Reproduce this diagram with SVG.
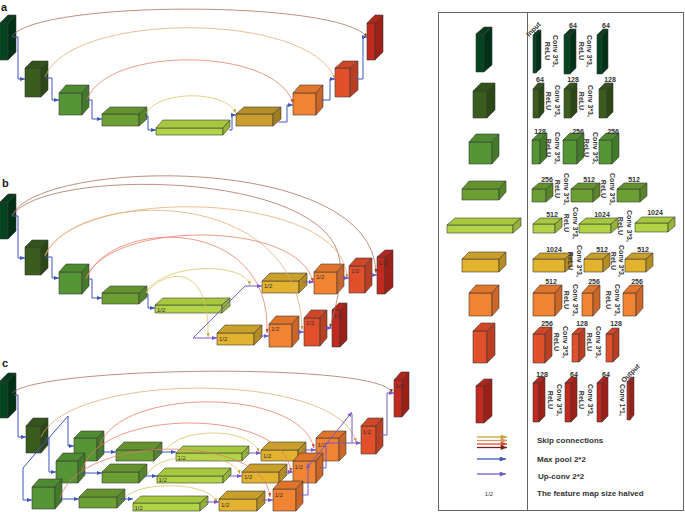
<svg xmlns="http://www.w3.org/2000/svg" width="685" height="512" viewBox="0 0 685 512">
<style>
text{font-family:"Liberation Sans",Arial,sans-serif}
.lbl{font-size:11px;font-weight:bold;fill:#1a1a1a}
.h{font-size:6px;fill:#333}
.n{font-size:7px;font-weight:bold;fill:#333;text-anchor:middle}
.cv{font-size:7px;font-weight:bold;fill:#333;text-anchor:middle}
.io{font-size:7px;font-weight:bold;fill:#333}
.lg{font-size:8px;font-weight:bold;fill:#333}
.bx rect,.bx polygon{stroke:#3a3a3a;stroke-width:0.6;stroke-linejoin:round}
.k1 rect{fill:#00451f}.k1 .t{fill:#083b1b}.k1 .s{fill:#003016}
.k2 rect{fill:#3a5c1d}.k2 .t{fill:#34531a}.k2 .s{fill:#2b4715}
.k3 rect{fill:#559535}.k3 .t{fill:#4e8a30}.k3 .s{fill:#437a29}
.k4 rect{fill:#6b9f34}.k4 .t{fill:#64922f}.k4 .s{fill:#578429}
.k5 rect{fill:#b1d447}.k5 .t{fill:#a6c83f}.k5 .s{fill:#93b434}
.k6 rect{fill:#e3b22f}.k6 .t{fill:#c9a02a}.k6 .s{fill:#b48d22}
.k6a rect{fill:#c99e2c}.k6a .t{fill:#b68e27}.k6a .s{fill:#a27e21}
.k7 rect{fill:#f28333}.k7 .t{fill:#e0742b}.k7 .s{fill:#cc6626}
.k8 rect{fill:#e1502b}.k8 .t{fill:#cf4727}.k8 .s{fill:#ba3e22}
.k9 rect{fill:#c22a1f}.k9 .t{fill:#b2261c}.k9 .s{fill:#9c2018}
.mp{fill:none;stroke:#3d57b8;stroke-width:1}
.up{fill:none;stroke:#7659c4;stroke-width:1}
.sk{fill:none;stroke-width:0.75}
.br{stroke:#a56c54}.tn{stroke:#e2ab70}.rd{stroke:#ea7864}.yl{stroke:#d8c25c}
.frame{fill:none;stroke:#666;stroke-width:1}
</style>
<defs>
<marker id="mB" viewBox="0 0 10 8" refX="10" refY="4" markerWidth="5" markerHeight="4" markerUnits="userSpaceOnUse" orient="auto"><path d="M0,0L10,4L0,8z" fill="#3d57b8"/></marker>
<marker id="mP" viewBox="0 0 10 8" refX="10" refY="4" markerWidth="5" markerHeight="4" markerUnits="userSpaceOnUse" orient="auto"><path d="M0,0L10,4L0,8z" fill="#7659c4"/></marker>
<marker id="mBr" viewBox="0 0 10 8" refX="10" refY="4" markerWidth="4" markerHeight="3.5" markerUnits="userSpaceOnUse" orient="auto"><path d="M0,0L10,4L0,8z" fill="#8a4028"/></marker>
<marker id="mTn" viewBox="0 0 10 8" refX="10" refY="4" markerWidth="4" markerHeight="3.5" markerUnits="userSpaceOnUse" orient="auto"><path d="M0,0L10,4L0,8z" fill="#d89050"/></marker>
<marker id="mRd" viewBox="0 0 10 8" refX="10" refY="4" markerWidth="4" markerHeight="3.5" markerUnits="userSpaceOnUse" orient="auto"><path d="M0,0L10,4L0,8z" fill="#d84030"/></marker>
<marker id="mYl" viewBox="0 0 10 8" refX="10" refY="4" markerWidth="4" markerHeight="3.5" markerUnits="userSpaceOnUse" orient="auto"><path d="M0,0L10,4L0,8z" fill="#c8a838"/></marker>
<marker id="lY" viewBox="0 0 10 8" refX="10" refY="4" markerWidth="7" markerHeight="5" markerUnits="userSpaceOnUse" orient="auto"><path d="M0,0L10,4L0,8z" fill="#c9a43a"/></marker>
<marker id="lT" viewBox="0 0 10 8" refX="10" refY="4" markerWidth="7" markerHeight="5" markerUnits="userSpaceOnUse" orient="auto"><path d="M0,0L10,4L0,8z" fill="#d99a60"/></marker>
<marker id="lR" viewBox="0 0 10 8" refX="10" refY="4" markerWidth="7" markerHeight="5" markerUnits="userSpaceOnUse" orient="auto"><path d="M0,0L10,4L0,8z" fill="#e04a35"/></marker>
<marker id="lD" viewBox="0 0 10 8" refX="10" refY="4" markerWidth="7" markerHeight="5" markerUnits="userSpaceOnUse" orient="auto"><path d="M0,0L10,4L0,8z" fill="#74200e"/></marker>
<marker id="lB" viewBox="0 0 10 8" refX="10" refY="4" markerWidth="7" markerHeight="5" markerUnits="userSpaceOnUse" orient="auto"><path d="M0,0L10,4L0,8z" fill="#3d57b8"/></marker>
<marker id="lP" viewBox="0 0 10 8" refX="10" refY="4" markerWidth="7" markerHeight="5" markerUnits="userSpaceOnUse" orient="auto"><path d="M0,0L10,4L0,8z" fill="#7659c4"/></marker>
</defs>
<rect width="685" height="512" fill="#fff"/>

<text class="lbl" x="1" y="11">a</text>
<text class="lbl" x="2" y="187">b</text>
<text class="lbl" x="2" y="367">c</text>

<!-- Panel a -->
<g id="panel-a">
<g id="a1" class="bx k1"><rect x="0" y="23" width="8" height="37"/><polygon class="t" points="0,23 8,15 16,15 8,23"/><polygon class="s" points="8,23 16,15 16,52 8,60"/></g>
<g id="a2" class="bx k2"><rect x="25" y="68" width="16" height="29"/><polygon class="t" points="25,68 32,61 48,61 41,68"/><polygon class="s" points="41,68 48,61 48,90 41,97"/></g>
<g id="a3" class="bx k3"><rect x="59" y="93" width="23" height="22"/><polygon class="t" points="59,93 66,85 89,85 82,93"/><polygon class="s" points="82,93 89,85 89,107 82,115"/></g>
<g id="a4" class="bx k4"><rect x="102" y="114" width="37" height="12"/><polygon class="t" points="102,114 110,107 147,107 139,114"/><polygon class="s" points="139,114 147,107 147,119 139,126"/></g>
<g id="a5" class="bx k5"><rect x="156" y="128" width="67" height="7"/><polygon class="t" points="156,128 163,120 230,120 223,128"/><polygon class="s" points="223,128 230,120 230,127 223,135"/></g>
<g id="a6" class="bx k6a"><rect x="236" y="114" width="37" height="12"/><polygon class="t" points="236,114 244,107 281,107 273,114"/><polygon class="s" points="273,114 281,107 281,119 273,126"/></g>
<g id="a7" class="bx k7"><rect x="293" y="93" width="23" height="22"/><polygon class="t" points="293,93 300,85 323,85 316,93"/><polygon class="s" points="316,93 323,85 323,107 316,115"/></g>
<g id="a8" class="bx k8"><rect x="335" y="68" width="15" height="29"/><polygon class="t" points="335,68 343,61 358,61 350,68"/><polygon class="s" points="350,68 358,61 358,90 350,97"/></g>
<g id="a9" class="bx k9"><rect x="367" y="23" width="8" height="37"/><polygon class="t" points="367,23 375,15 383,15 375,23"/><polygon class="s" points="375,23 383,15 383,52 375,60"/></g>
</g>

<!-- Panel b -->
<g id="panel-b">
<g id="b1" class="bx k1"><rect x="0" y="202" width="8" height="37"/><polygon class="t" points="0,202 8,194 16,194 8,202"/><polygon class="s" points="8,202 16,194 16,231 8,239"/></g>
<g id="b2" class="bx k2"><rect x="25" y="247" width="16" height="28"/><polygon class="t" points="25,247 32,240 48,240 41,247"/><polygon class="s" points="41,247 48,240 48,268 41,275"/></g>
<g id="b3" class="bx k3"><rect x="59" y="272" width="23" height="22"/><polygon class="t" points="59,272 66,264 89,264 82,272"/><polygon class="s" points="82,272 89,264 89,286 82,294"/></g>
<g id="b4" class="bx k4"><rect x="102" y="293" width="37" height="11"/><polygon class="t" points="102,293 110,286 147,286 139,293"/><polygon class="s" points="139,293 147,286 147,297 139,304"/></g>
<g id="b5" class="bx k5"><rect x="155" y="305" width="67" height="8"/><polygon class="t" points="155,305 163,298 230,298 222,305"/><polygon class="s" points="222,305 230,298 230,306 222,313"/><text class="h" x="157" y="311.5">1/2</text></g>
<g id="b6a" class="bx k6"><rect x="262" y="281" width="37" height="12"/><polygon class="t" points="262,281 270,273 307,273 299,281"/><polygon class="s" points="299,281 307,273 307,285 299,293"/><text class="h" x="264" y="288">1/2</text></g>
<g id="b7a" class="bx k7"><rect x="314" y="272" width="23" height="22"/><polygon class="t" points="314,272 321,264 344,264 337,272"/><polygon class="s" points="337,272 344,264 344,286 337,294"/><text class="h" x="316" y="279">1/2</text></g>
<g id="b8a" class="bx k8"><rect x="349" y="266" width="16" height="27"/><polygon class="t" points="349,266 356,258 372,258 365,266"/><polygon class="s" points="365,266 372,258 372,285 365,293"/><text class="h" x="351" y="273">1/2</text></g>
<g id="b9a" class="bx k9"><rect x="377" y="257" width="8" height="37"/><polygon class="t" points="377,257 385,250 393,250 385,257"/><polygon class="s" points="385,257 393,250 393,287 385,294"/><text class="h" x="378.5" y="265">1/2</text></g>
<g id="b6b" class="bx k6"><rect x="217" y="333" width="37" height="12"/><polygon class="t" points="217,333 225,325 262,325 254,333"/><polygon class="s" points="254,333 262,325 262,337 254,345"/><text class="h" x="219" y="341">1/2</text></g>
<g id="b7b" class="bx k7"><rect x="269" y="324" width="23" height="23"/><polygon class="t" points="269,324 276,316 299,316 292,324"/><polygon class="s" points="292,324 299,316 299,339 292,347"/><text class="h" x="271" y="331">1/2</text></g>
<g id="b8b" class="bx k8"><rect x="304" y="318" width="16" height="28"/><polygon class="t" points="304,318 311,310 327,310 320,318"/><polygon class="s" points="320,318 327,310 327,338 320,346"/><text class="h" x="306" y="325">1/2</text></g>
<g id="b9b" class="bx k9"><rect x="332" y="310" width="8" height="37"/><polygon class="t" points="332,310 339,303 347,303 340,310"/><polygon class="s" points="340,310 347,303 347,340 340,347"/><text class="h" x="333.5" y="318">1/2</text></g>
</g>

<!-- Panel c -->
<g id="panel-c">
<g id="c1" class="bx k1"><rect x="0" y="381" width="8" height="37"/><polygon class="t" points="0,381 8,373 16,373 8,381"/><polygon class="s" points="8,381 16,373 16,410 8,418"/></g>
<g id="c2" class="bx k2"><rect x="26" y="426" width="15" height="27"/><polygon class="t" points="26,426 33,418 48,418 41,426"/><polygon class="s" points="41,426 48,418 48,445 41,453"/></g>
<g id="cG1" class="bx k3"><rect x="74" y="438" width="23" height="23"/><polygon class="t" points="74,438 81,431 104,431 97,438"/><polygon class="s" points="97,438 104,431 104,454 97,461"/></g>
<g id="cG2" class="bx k3"><rect x="56" y="461" width="22" height="22"/><polygon class="t" points="56,461 63,453 85,453 78,461"/><polygon class="s" points="78,461 85,453 85,475 78,483"/></g>
<g id="cG3" class="bx k3"><rect x="32" y="487" width="23" height="22"/><polygon class="t" points="32,487 39,479 62,479 55,487"/><polygon class="s" points="55,487 62,479 62,501 55,509"/></g>
<g id="cM1" class="bx k4"><rect x="116" y="450" width="38" height="11"/><polygon class="t" points="116,450 124,442 162,442 154,450"/><polygon class="s" points="154,450 162,442 162,453 154,461"/></g>
<g id="cM2" class="bx k4"><rect x="102" y="472" width="37" height="11"/><polygon class="t" points="102,472 110,464 147,464 139,472"/><polygon class="s" points="139,472 147,464 147,475 139,483"/></g>
<g id="cM3" class="bx k4"><rect x="79" y="497" width="38" height="11"/><polygon class="t" points="79,497 87,489 125,489 117,497"/><polygon class="s" points="117,497 125,489 125,500 117,508"/></g>
<g id="cL1" class="bx k5"><rect x="176" y="453" width="66" height="8"/><polygon class="t" points="176,453 183,446 249,446 242,453"/><polygon class="s" points="242,453 249,446 249,454 242,461"/><text class="h" x="177.5" y="459.5">1/2</text></g>
<g id="cL2" class="bx k5"><rect x="157" y="476" width="66" height="7"/><polygon class="t" points="157,476 165,468 231,468 223,476"/><polygon class="s" points="223,476 231,468 231,475 223,483"/><text class="h" x="158.5" y="482">1/2</text></g>
<g id="cL3" class="bx k5"><rect x="133" y="503" width="67" height="8"/><polygon class="t" points="133,503 141,496 208,496 200,503"/><polygon class="s" points="200,503 208,496 208,504 200,511"/><text class="h" x="134.5" y="509.5">1/2</text></g>
<g id="cY1" class="bx k6"><rect x="261" y="450" width="37" height="11"/><polygon class="t" points="261,450 269,442 306,442 298,450"/><polygon class="s" points="298,450 306,442 306,453 298,461"/><text class="h" x="263" y="457.5">1/2</text></g>
<g id="cY2" class="bx k6"><rect x="242" y="472" width="37" height="11"/><polygon class="t" points="242,472 250,464 287,464 279,472"/><polygon class="s" points="279,472 287,464 287,475 279,483"/><text class="h" x="244" y="479">1/2</text></g>
<g id="cY3" class="bx k6"><rect x="219" y="499" width="38" height="12"/><polygon class="t" points="219,499 227,491 265,491 257,499"/><polygon class="s" points="257,499 265,491 265,503 257,511"/><text class="h" x="221" y="506.5">1/2</text></g>
<g id="cO1" class="bx k7"><rect x="316" y="438" width="23" height="23"/><polygon class="t" points="316,438 323,431 346,431 339,438"/><polygon class="s" points="339,438 346,431 346,454 339,461"/><text class="h" x="317.5" y="447">1/2</text></g>
<g id="cO2" class="bx k7"><rect x="293" y="461" width="23" height="22"/><polygon class="t" points="293,461 300,453 323,453 316,461"/><polygon class="s" points="316,461 323,453 323,475 316,483"/><text class="h" x="294.5" y="468.5">1/2</text></g>
<g id="cO3" class="bx k7"><rect x="273" y="489" width="23" height="22"/><polygon class="t" points="273,489 280,481 303,481 296,489"/><polygon class="s" points="296,489 303,481 303,503 296,511"/><text class="h" x="274.5" y="496.5">1/2</text></g>
<g id="cR" class="bx k8"><rect x="361" y="426" width="15" height="28"/><polygon class="t" points="361,426 368,418 383,418 376,426"/><polygon class="s" points="376,426 383,418 383,446 376,454"/><text class="h" x="362.5" y="433.5">1/2</text></g>
<g id="cD" class="bx k9"><rect x="394" y="380" width="8" height="37"/><polygon class="t" points="394,380 401,372 409,372 402,380"/><polygon class="s" points="402,380 409,372 409,409 402,417"/><text class="h" x="395.5" y="387.5">1/2</text></g>
</g>

<!-- Connectors -->
<g id="connectors">
<path class="sk br" marker-end="url(#mBr)" d="M12,36 C40,0 340,0 367,37"/>
<path class="sk tn" marker-end="url(#mTn)" d="M45,77 C70,11 310,11 335,79"/>
<path class="sk rd" marker-end="url(#mRd)" d="M87,100 C105,46 275,46 293,103"/>
<path class="sk yl" marker-end="url(#mYl)" d="M146,113 C160,90 225,90 236,113"/>
<path class="mp" marker-end="url(#mB)" d="M12,37 H18 V79 H25"/>
<path class="mp" marker-end="url(#mB)" d="M45,78 H52 V100 H59"/>
<path class="mp" marker-end="url(#mB)" d="M86,100 H92 V119 H102"/>
<path class="mp" marker-end="url(#mB)" d="M145,116 H148 V130 H156"/>
<path class="mp" marker-end="url(#mB)" d="M229,130 H232 V115 H236"/>
<path class="mp" marker-end="url(#mB)" d="M279,122 H287 V105 H293"/>
<path class="mp" marker-end="url(#mB)" d="M321,100 H330 V79 H335"/>
<path class="mp" marker-end="url(#mB)" d="M356,79 H363 V37 H367"/>

<path class="sk br" marker-end="url(#mBr)" d="M12,215 C40,158 374,152 376,273"/>
<path class="sk br" marker-end="url(#mBr)" d="M12,216 C40,168 330,168 340,262 C342,290 334,310 330,328"/>
<path class="sk tn" marker-end="url(#mTn)" d="M45,255 C75,185 345,190 347,278"/>
<path class="sk tn" marker-end="url(#mTn)" d="M45,256 C75,188 300,183 302,330"/>
<path class="sk rd" marker-end="url(#mRd)" d="M86,278 C110,220 300,220 313,282"/>
<path class="sk rd" marker-end="url(#mRd)" d="M86,279 C110,218 272,214 267,333"/>
<path class="sk yl" marker-end="url(#mYl)" d="M146,292 C165,262 245,262 250,285"/>
<path class="sk yl" marker-end="url(#mYl)" d="M146,293 C170,266 210,266 208,337"/>
<path class="mp" marker-end="url(#mB)" d="M12,216 H18 V258 H25"/>
<path class="mp" marker-end="url(#mB)" d="M45,257 H52 V278 H59"/>
<path class="mp" marker-end="url(#mB)" d="M88,279 H92 V298 H102"/>
<path class="mp" marker-end="url(#mB)" d="M146,294 H148 V308 H155"/>
<path class="up" marker-end="url(#mP)" d="M193,338 L245,286 H262"/>
<path class="up" marker-end="url(#mP)" d="M193,338 H217"/>
<path class="up" marker-end="url(#mP)" d="M303,282 H314"/>
<path class="up" marker-end="url(#mP)" d="M342,278 H349"/>
<path class="up" marker-end="url(#mP)" d="M371,275 H377"/>
<path class="up" marker-end="url(#mP)" d="M259,336 H269"/>
<path class="up" marker-end="url(#mP)" d="M296,332 H304"/>
<path class="up" marker-end="url(#mP)" d="M323,328 H332"/>

<path class="sk br" marker-end="url(#mBr)" d="M12,393 C40,366 385,362 392,393"/>
<path class="sk tn" marker-end="url(#mTn)" d="M41,437 C70,371 340,371 356,442"/>
<path class="sk rd" marker-end="url(#mRd)" d="M100,445 C120,387 300,387 314,448"/>
<path class="sk rd" marker-end="url(#mRd)" d="M82,470 C100,407 285,407 291,472"/>
<path class="sk rd" marker-end="url(#mRd)" d="M60,498 C80,433 265,433 270,497"/>
<path class="sk yl" marker-end="url(#mYl)" d="M166,450 C180,427 250,427 259,452"/>
<path class="sk yl" marker-end="url(#mYl)" d="M148,473 C160,451 232,451 240,474"/>
<path class="sk yl" marker-end="url(#mYl)" d="M125,498 C138,481 208,481 217,502"/>
<path class="mp" marker-end="url(#mB)" d="M14,395 H18 V437 H26"/>
<path class="mp" marker-end="url(#mB)" d="M48,439 L68,416 V446 H74"/>
<path class="mp" marker-end="url(#mB)" d="M48,439 L23,468 V500 H32"/>
<path class="mp" marker-end="url(#mB)" d="M45,438 H49 V472 H56"/>
<path class="mp" marker-end="url(#mB)" d="M100,452 H116"/>
<path class="mp" marker-end="url(#mB)" d="M82,473 H102"/>
<path class="mp" marker-end="url(#mB)" d="M60,499 H79"/>
<path class="mp" marker-end="url(#mB)" d="M157,452 H176"/>
<path class="mp" marker-end="url(#mB)" d="M143,476 H157"/>
<path class="mp" marker-end="url(#mB)" d="M120,499 H133"/>
<path class="up" marker-end="url(#mP)" d="M246,453 H261"/>
<path class="up" marker-end="url(#mP)" d="M228,476 H242"/>
<path class="up" marker-end="url(#mP)" d="M205,502 H219"/>
<path class="up" marker-end="url(#mP)" d="M303,450 H316"/>
<path class="up" marker-end="url(#mP)" d="M284,472 H293"/>
<path class="up" marker-end="url(#mP)" d="M262,500 H273"/>
<path class="up" marker-end="url(#mP)" d="M300,495 H308 V463"/>
<path class="up" marker-end="url(#mP)" d="M307,468 L352,412"/>
<path class="up" d="M352,414 V443"/>
<path class="up" marker-end="url(#mP)" d="M320,468 H326 V443 H361"/>
<path class="up" marker-end="url(#mP)" d="M380,435 H387 V393 H394"/>
</g>

<!-- Legend -->
<g id="legend">
<rect class="frame" x="438.5" y="12.5" width="245" height="498"/>
<line class="frame" x1="527.5" y1="12.5" x2="527.5" y2="510.5"/>

<g id="leg-row1">
<g class="bx k1"><rect x="476" y="34" width="8" height="38"/><polygon class="t" points="476,34 484,27 492,27 484,34"/><polygon class="s" points="484,34 492,27 492,65 484,72"/></g>
<g class="bx k1"><rect x="533" y="35" width="3" height="38"/><polygon class="t" points="533,35 538,30 541,30 536,35"/><polygon class="s" points="536,35 541,30 541,68 536,73"/></g>
<g class="bx k1"><rect x="564" y="35" width="6" height="39"/><polygon class="t" points="564,35 570,29 576,29 570,35"/><polygon class="s" points="570,35 576,29 576,68 570,74"/></g>
<g class="bx k1"><rect x="597" y="35" width="5" height="39"/><polygon class="t" points="597,35 603,29 608,29 602,35"/><polygon class="s" points="602,35 608,29 608,68 602,74"/></g>
<text class="io" transform="translate(529,37) rotate(-45)">Input</text>
<text class="n" x="573" y="27.5">64</text><text class="n" x="606" y="27.5">64</text>
<text class="cv" transform="translate(553,51) rotate(90)"><tspan x="0" y="0">Conv 3*3,</tspan><tspan x="0" y="8.5">ReLU</tspan></text>
<text class="cv" transform="translate(587,51) rotate(90)"><tspan x="0" y="0">Conv 3*3,</tspan><tspan x="0" y="8.5">ReLU</tspan></text>
</g>

<g id="leg-row2">
<g class="bx k2"><rect x="473" y="91" width="14" height="27"/><polygon class="t" points="473,91 481,83 495,83 487,91"/><polygon class="s" points="487,91 495,83 495,110 487,118"/></g>
<g class="bx k2"><rect x="533" y="89" width="6" height="29"/><polygon class="t" points="533,89 538,83 544,83 539,89"/><polygon class="s" points="539,89 544,83 544,112 539,118"/></g>
<g class="bx k2"><rect x="564" y="89" width="7" height="29"/><polygon class="t" points="564,89 570,83 577,83 571,89"/><polygon class="s" points="571,89 577,83 577,112 571,118"/></g>
<g class="bx k2"><rect x="599" y="89" width="8" height="29"/><polygon class="t" points="599,89 605,83 613,83 607,89"/><polygon class="s" points="607,89 613,83 613,112 607,118"/></g>
<text class="n" x="540" y="82">64</text><text class="n" x="573" y="82">128</text><text class="n" x="610" y="82">128</text>
<text class="cv" transform="translate(555,101) rotate(90)"><tspan x="0" y="0">Conv 3*3,</tspan><tspan x="0" y="9">ReLU</tspan></text>
<text class="cv" transform="translate(588,101) rotate(90)"><tspan x="0" y="0">Conv 3*3,</tspan><tspan x="0" y="9">ReLU</tspan></text>
</g>

<g id="leg-row3">
<g class="bx k3"><rect x="469" y="142" width="23" height="22"/><polygon class="t" points="469,142 476,134 499,134 492,142"/><polygon class="s" points="492,142 499,134 499,156 492,164"/></g>
<g class="bx k3"><rect x="532" y="140" width="8" height="24"/><polygon class="t" points="532,140 539,133 547,133 540,140"/><polygon class="s" points="540,140 547,133 547,157 540,164"/></g>
<g class="bx k3"><rect x="563" y="140" width="14" height="24"/><polygon class="t" points="563,140 570,133 584,133 577,140"/><polygon class="s" points="577,140 584,133 584,157 577,164"/></g>
<g class="bx k3"><rect x="599" y="140" width="13" height="24"/><polygon class="t" points="599,140 606,133 619,133 612,140"/><polygon class="s" points="612,140 619,133 619,157 612,164"/></g>
<text class="n" x="540" y="134">128</text><text class="n" x="578" y="134">256</text><text class="n" x="613" y="134">256</text>
<text class="cv" transform="translate(555,148) rotate(90)"><tspan x="0" y="0">Conv 3*3,</tspan><tspan x="0" y="9.5">ReLU</tspan></text>
<text class="cv" transform="translate(593,148) rotate(90)"><tspan x="0" y="0">Conv 3*3,</tspan><tspan x="0" y="9.5">ReLU</tspan></text>
</g>

<g id="leg-row4">
<g class="bx k4"><rect x="462" y="189" width="37" height="11"/><polygon class="t" points="462,189 469,181 506,181 499,189"/><polygon class="s" points="499,189 506,181 506,192 499,200"/></g>
<g class="bx k4"><rect x="532" y="189" width="14" height="13"/><polygon class="t" points="532,189 539,183 553,183 546,189"/><polygon class="s" points="546,189 553,183 553,196 546,202"/></g>
<g class="bx k4"><rect x="571" y="189" width="22" height="13"/><polygon class="t" points="571,189 578,183 600,183 593,189"/><polygon class="s" points="593,189 600,183 600,196 593,202"/></g>
<g class="bx k4"><rect x="617" y="189" width="23" height="13"/><polygon class="t" points="617,189 624,183 647,183 640,189"/><polygon class="s" points="640,189 647,183 647,196 640,202"/></g>
<text class="n" x="547" y="182">256</text><text class="n" x="589" y="182">512</text><text class="n" x="634" y="182">512</text>
<text class="cv" transform="translate(564,189) rotate(90)"><tspan x="0" y="0">Conv 3*3,</tspan><tspan x="0" y="9">ReLU</tspan></text>
<text class="cv" transform="translate(610,189) rotate(90)"><tspan x="0" y="0">Conv 3*3,</tspan><tspan x="0" y="9">ReLU</tspan></text>
</g>

<g id="leg-row5">
<g class="bx k5"><rect x="447" y="225" width="66" height="8"/><polygon class="t" points="447,225 455,218 521,218 513,225"/><polygon class="s" points="513,225 521,218 521,226 513,233"/></g>
<g class="bx k5"><rect x="533" y="224" width="22" height="9"/><polygon class="t" points="533,224 540,218 562,218 555,224"/><polygon class="s" points="555,224 562,218 562,227 555,233"/></g>
<g class="bx k5"><rect x="579" y="224" width="32" height="9"/><polygon class="t" points="579,224 586,218 618,218 611,224"/><polygon class="s" points="611,224 618,218 618,227 611,233"/></g>
<g class="bx k5"><rect x="635" y="223" width="33" height="9"/><polygon class="t" points="635,223 642,217 675,217 668,223"/><polygon class="s" points="668,223 675,217 675,226 668,232"/></g>
<text class="n" x="552" y="217">512</text><text class="n" x="602" y="217">1024</text><text class="n" x="655" y="215">1024</text>
<text class="cv" transform="translate(573,223) rotate(90)"><tspan x="0" y="0">Conv 3*3,</tspan><tspan x="0" y="9">ReLU</tspan></text>
<text class="cv" transform="translate(627,226) rotate(90)"><tspan x="0" y="0">Conv 3*3,</tspan><tspan x="0" y="9">ReLU</tspan></text>
</g>

<g id="leg-row6">
<g class="bx k6"><rect x="462" y="259" width="37" height="13"/><polygon class="t" points="462,259 469,252 506,252 499,259"/><polygon class="s" points="499,259 506,252 506,265 499,272"/></g>
<g class="bx k6"><rect x="533" y="259" width="32" height="13"/><polygon class="t" points="533,259 540,253 572,253 565,259"/><polygon class="s" points="565,259 572,253 572,266 565,272"/></g>
<g class="bx k6"><rect x="584" y="259" width="19" height="13"/><polygon class="t" points="584,259 591,253 610,253 603,259"/><polygon class="s" points="603,259 610,253 610,266 603,272"/></g>
<g class="bx k6"><rect x="625" y="259" width="21" height="13"/><polygon class="t" points="625,259 632,253 653,253 646,259"/><polygon class="s" points="646,259 653,253 653,266 646,272"/></g>
<text class="n" x="554" y="252">1024</text><text class="n" x="602" y="252">512</text><text class="n" x="643" y="252">512</text>
<text class="cv" transform="translate(577,261) rotate(90)"><tspan x="0" y="0">Conv 3*3,</tspan><tspan x="0" y="9">ReLU</tspan></text>
<text class="cv" transform="translate(619,261) rotate(90)"><tspan x="0" y="0">Conv 3*3,</tspan><tspan x="0" y="8.5">ReLU</tspan></text>
</g>

<g id="leg-row7">
<g class="bx k7"><rect x="469" y="293" width="23" height="23"/><polygon class="t" points="469,293 476,285 499,285 492,293"/><polygon class="s" points="492,293 499,285 499,308 492,316"/></g>
<g class="bx k7"><rect x="533" y="293" width="22" height="23"/><polygon class="t" points="533,293 540,285 562,285 555,293"/><polygon class="s" points="555,293 562,285 562,308 555,316"/></g>
<g class="bx k7"><rect x="582" y="293" width="11" height="23"/><polygon class="t" points="582,293 589,285 600,285 593,293"/><polygon class="s" points="593,293 600,285 600,308 593,316"/></g>
<g class="bx k7"><rect x="623" y="293" width="13" height="23"/><polygon class="t" points="623,293 630,285 643,285 636,293"/><polygon class="s" points="636,293 643,285 643,308 636,316"/></g>
<text class="n" x="551" y="284">512</text><text class="n" x="594" y="284">256</text><text class="n" x="637" y="284">256</text>
<text class="cv" transform="translate(573,300) rotate(90)"><tspan x="0" y="0">Conv 3*3,</tspan><tspan x="0" y="9">ReLU</tspan></text>
<text class="cv" transform="translate(615,300) rotate(90)"><tspan x="0" y="0">Conv 3*3,</tspan><tspan x="0" y="9">ReLU</tspan></text>
</g>

<g id="leg-row8">
<g class="bx k8"><rect x="473" y="331" width="14" height="32"/><polygon class="t" points="473,331 481,323 495,323 487,331"/><polygon class="s" points="487,331 495,323 495,355 487,363"/></g>
<g class="bx k8"><rect x="533" y="334" width="12" height="29"/><polygon class="t" points="533,334 540,327 552,327 545,334"/><polygon class="s" points="545,334 552,327 552,356 545,363"/></g>
<g class="bx k8"><rect x="572" y="334" width="7" height="28"/><polygon class="t" points="572,334 578,328 585,328 579,334"/><polygon class="s" points="579,334 585,328 585,356 579,362"/></g>
<g class="bx k8"><rect x="606" y="334" width="7" height="28"/><polygon class="t" points="606,334 612,328 619,328 613,334"/><polygon class="s" points="613,334 619,328 619,356 613,362"/></g>
<text class="n" x="547" y="326">256</text><text class="n" x="582" y="326">128</text><text class="n" x="616" y="326">128</text>
<text class="cv" transform="translate(563,342) rotate(90)"><tspan x="0" y="0">Conv 3*3,</tspan><tspan x="0" y="9">ReLU</tspan></text>
<text class="cv" transform="translate(596,342) rotate(90)"><tspan x="0" y="0">Conv 3*3,</tspan><tspan x="0" y="9">ReLU</tspan></text>
</g>

<g id="leg-row9">
<g class="bx k9"><rect x="476" y="386" width="8" height="37"/><polygon class="t" points="476,386 484,379 492,379 484,386"/><polygon class="s" points="484,386 492,379 492,416 484,423"/></g>
<g class="bx k9"><rect x="533" y="383" width="6" height="39"/><polygon class="t" points="533,383 539,377 545,377 539,383"/><polygon class="s" points="539,383 545,377 545,416 539,422"/></g>
<g class="bx k9"><rect x="565" y="383" width="6" height="39"/><polygon class="t" points="565,383 571,377 577,377 571,383"/><polygon class="s" points="571,383 577,377 577,416 571,422"/></g>
<g class="bx k9"><rect x="597" y="383" width="5" height="39"/><polygon class="t" points="597,383 603,377 608,377 602,383"/><polygon class="s" points="602,383 608,377 608,416 602,422"/></g>
<g class="bx k9"><rect x="627" y="382" width="3" height="38"/><polygon class="t" points="627,382 631,377 634,377 630,382"/><polygon class="s" points="630,382 634,377 634,415 630,420"/></g>
<text class="n" x="542" y="377">128</text><text class="n" x="574" y="377">64</text><text class="n" x="606" y="377">64</text>
<text class="cv" transform="translate(557,400) rotate(90)"><tspan x="0" y="0">Conv 3*3,</tspan><tspan x="0" y="9.5">ReLU</tspan></text>
<text class="cv" transform="translate(588,400) rotate(90)"><tspan x="0" y="0">Conv 3*3,</tspan><tspan x="0" y="9">ReLU</tspan></text>
<text class="cv" transform="translate(620,400) rotate(90)">Conv 1*1,</text>
<text class="io" transform="translate(624,383) rotate(-45)">Output</text>
</g>

<g id="leg-keys">
<path fill="none" stroke="#c9a43a" stroke-width="1.3" marker-end="url(#lY)" d="M477,437 H507"/>
<path fill="none" stroke="#d99a60" stroke-width="1.3" marker-end="url(#lT)" d="M477,440.5 H507"/>
<path fill="none" stroke="#e04a35" stroke-width="1.3" marker-end="url(#lR)" d="M477,444 H507"/>
<path fill="none" stroke="#74200e" stroke-width="1.3" marker-end="url(#lD)" d="M477,447.5 H507"/>
<path fill="none" stroke="#3d57b8" stroke-width="1.3" marker-end="url(#lB)" d="M477,459 H506"/>
<path fill="none" stroke="#7659c4" stroke-width="1.3" marker-end="url(#lP)" d="M477,474 H506"/>
<text class="h" x="489" y="496" text-anchor="middle">1/2</text>
<text class="lg" x="537" y="443">Skip connections</text>
<text class="lg" x="537" y="462">Max pool 2*2</text>
<text class="lg" x="538" y="479">Up-conv 2*2</text>
<text class="lg" x="537" y="496">The feature map size halved</text>
</g>
</g>
</svg>
